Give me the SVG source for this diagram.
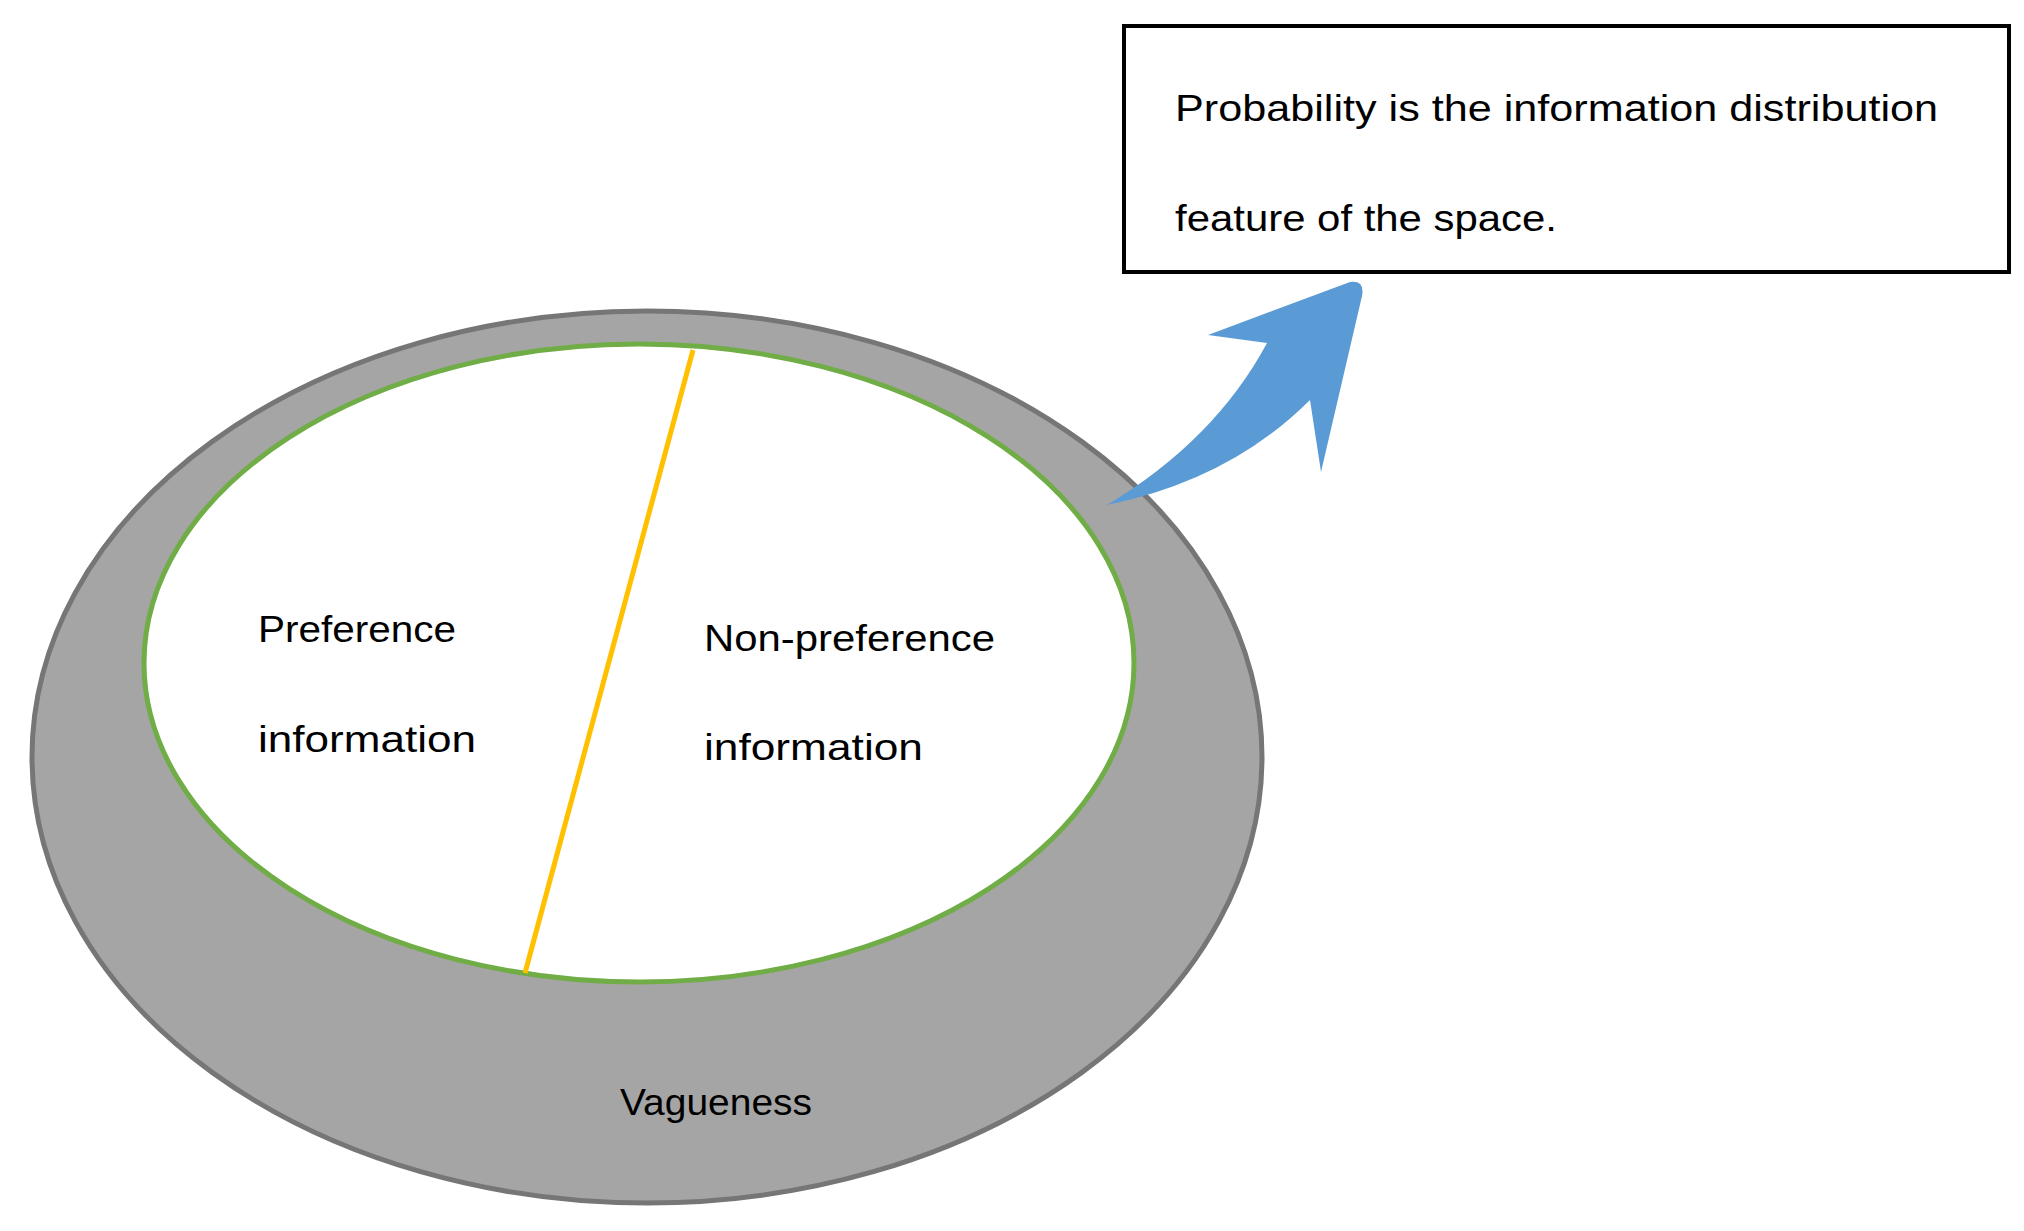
<svg xmlns="http://www.w3.org/2000/svg" width="2024" height="1231" viewBox="0 0 2024 1231">
<style>
.t{font-family:"Liberation Sans",Arial,sans-serif;font-size:36px;fill:#000}
</style>
<rect width="2024" height="1231" fill="#fff"/>
<g id="outer"><ellipse cx="647" cy="757" rx="615" ry="446" fill="#a5a5a5" stroke="#767676" stroke-width="5"/>
<text class="t" x="620" y="1115" textLength="192" lengthAdjust="spacingAndGlyphs">Vagueness</text></g>
<g id="inner"><ellipse cx="639" cy="663" rx="495" ry="319" fill="#fff" stroke="#70ad47" stroke-width="5"/></g>
<g id="connectors">
<line x1="693" y1="350" x2="525" y2="973" stroke="#ffc000" stroke-width="5"/>
<path d="M1107,505 Q1215,440 1267,343 L1208,335 L1350,282 Q1365,280 1362,296 L1321,472 L1310,400 Q1230,480 1107,505 Z" fill="#5b9bd5"/>
</g>
<g id="pref"><text class="t" x="258" y="642" textLength="198" lengthAdjust="spacingAndGlyphs">Preference</text>
<text class="t" x="258" y="752" textLength="218" lengthAdjust="spacingAndGlyphs">information</text></g>
<g id="nonpref"><text class="t" x="704" y="651" textLength="291" lengthAdjust="spacingAndGlyphs">Non-preference</text>
<text class="t" x="704" y="760" textLength="219" lengthAdjust="spacingAndGlyphs">information</text></g>
<g id="box"><rect x="1124" y="26" width="885" height="246" fill="#fff" stroke="#000" stroke-width="4"/>
<text class="t" x="1175" y="121" textLength="763" lengthAdjust="spacingAndGlyphs">Probability is the information distribution</text>
<text class="t" x="1175" y="231" textLength="382" lengthAdjust="spacingAndGlyphs">feature of the space.</text></g>
</svg>
